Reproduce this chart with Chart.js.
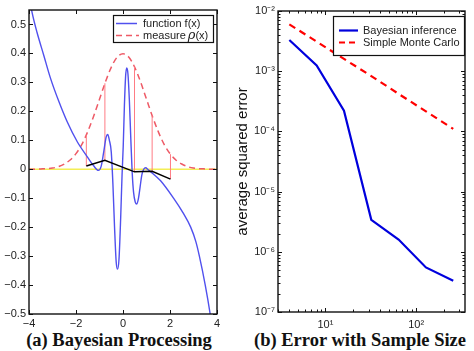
<!DOCTYPE html>
<html><head><meta charset="utf-8">
<script src="https://cdn.jsdelivr.net/npm/chart.js@4.4.0/dist/chart.umd.min.js"></script>
<style>
html,body{margin:0;padding:0;background:#fff;width:474px;height:351px;overflow:hidden;}
#c1{position:absolute;left:0;top:0;}
#c2{position:absolute;left:232px;top:0;}
.cap{position:absolute;font-family:"Liberation Serif","Times New Roman",serif;font-weight:bold;font-size:18.5px;color:#111;white-space:nowrap;transform:translateX(-50%);top:330px;line-height:21px;}
</style></head><body>
<canvas id="c1" width="232" height="330"></canvas>
<canvas id="c2" width="242" height="330"></canvas>
<div class="cap" style="left:119px">(a) Bayesian Processing</div>
<div class="cap" style="left:360px">(b) Error with Sample Size</div>
<script>
// ---------- left panel data ----------
const fX = [-4.0,-3.87,-3.66,-3.37,-3.08,-2.72,-2.37,-1.94,-1.51,-1.25,-1.05,-0.93,-0.82,-0.72,-0.65,-0.58,-0.50,-0.43,-0.36,-0.29,-0.23,-0.17,-0.10,-0.04,0.01,0.06,0.11,0.16,0.21,0.27,0.33,0.39,0.45,0.52,0.59,0.66,0.73,0.80,0.88,0.97,1.05,1.20,1.60,2.15,2.55,2.88,3.10,3.25,3.50,3.71,3.85];
const fY = [0.60,0.542,0.473,0.393,0.313,0.232,0.163,0.094,0.042,0.012,-0.004,0.01,0.06,0.11,0.12,0.10,0.06,-0.05,-0.20,-0.32,-0.345,-0.31,-0.17,-0.02,0.08,0.22,0.32,0.35,0.33,0.24,0.11,-0.01,-0.08,-0.113,-0.12,-0.10,-0.06,-0.02,0.0,0.005,0.0,-0.01,-0.04,-0.10,-0.15,-0.20,-0.25,-0.30,-0.40,-0.50,-0.58];
const rhoX = [-4,-3.75,-3.5,-3.25,-3,-2.75,-2.5,-2.25,-2,-1.75,-1.5,-1.25,-1,-0.75,-0.5,-0.25,0,0.25,0.5,0.75,1,1.25,1.5,1.75,2,2.25,2.5,2.75,3,3.25,3.5,3.75,4];
const rhoY = [0.000,0.000,0.001,0.002,0.004,0.009,0.018,0.032,0.054,0.086,0.130,0.183,0.242,0.301,0.352,0.387,0.399,0.387,0.352,0.301,0.242,0.183,0.130,0.086,0.054,0.032,0.018,0.009,0.004,0.002,0.001,0.000,0.000];
const sampleX = [-1.56,-0.77,0.49,1.24,2.02];
const sampleRho = [0.117,0.297,0.354,0.185,0.052];
const estY = [0.011,0.031,-0.009,-0.007,-0.034];
const zeroX = [-4,4];
const zeroY = [0,0];
const leftXTicks = [-4,-2,0,2,4];
const leftYTicks = [-0.5,-0.4,-0.3,-0.2,-0.1,0,0.1,0.2,0.3,0.4,0.5];

// ---------- right panel data ----------
const sizes = [4,8,16,32,64,128,256];
const bayesErr = [3.3e-3,1.25e-3,2.2e-4,3.4e-6,1.6e-6,5.5e-7,3.3e-7];
const mcErr = [6.0e-3,3.1e-3,1.6e-3,8.3e-4,4.2e-4,2.15e-4,1.1e-4];
const rightXTicks = [10,100];
const rightYTicks = [1e-7,1e-6,1e-5,1e-4,1e-3,1e-2];

const SANS = '"Liberation Sans", Arial, Helvetica, sans-serif';
const pts = (xs, ys) => xs.map((x,i)=>({x, y: ys[i]}));
function line(ctx,x1,y1,x2,y2){ctx.beginPath();ctx.moveTo(x1,y1);ctx.lineTo(x2,y2);ctx.stroke();}
const SUP = {'-':'\u207B','0':'\u2070','1':'\u00B9','2':'\u00B2','3':'\u00B3','4':'\u2074','5':'\u2075','6':'\u2076','7':'\u2077','8':'\u2078','9':'\u2079'};
const pow10Label = v => '10' + String(Math.round(Math.log10(v))).split('').map(c=>SUP[c]).join('');

function makeFrame(cfg){
  return {
    id: 'frame' + cfg.name,
    afterDatasetsDraw(chart){
      const {ctx, chartArea:a} = chart;
      const sx = chart.scales.x, sy = chart.scales.y;
      ctx.save();
      ctx.strokeStyle = '#111'; ctx.lineWidth = 1;
      const tick = (vals, len, isX) => vals.forEach(v => {
        if (isX) { const p = Math.round(sx.getPixelForValue(v))+0.5; line(ctx,p,a.bottom,p,a.bottom-len); line(ctx,p,a.top,p,a.top+len); }
        else { const p = Math.round(sy.getPixelForValue(v))+0.5; line(ctx,a.left,p,a.left+len,p); line(ctx,a.right,p,a.right-len,p); }
      });
      tick(cfg.xTicks, 4, true); tick(cfg.yTicks, 4, false);
      if (cfg.xMinor) tick(cfg.xMinor, 2.5, true);
      if (cfg.yMinor) tick(cfg.yMinor, 2.5, false);
      ctx.lineWidth = 1.4;
      ctx.strokeRect(a.left, a.top, a.width, a.height);
      ctx.restore();
    },
    afterDraw(chart){ cfg.legend(chart.ctx); }
  };
}

// ---------- left chart ----------
const verticals = sampleX.map((x,i)=>({
  data: [{x, y: estY[i]}, {x, y: sampleRho[i]}],
  showLine: true, borderColor: '#ff7c84', borderWidth: 1, pointRadius: 0, order: 3
}));

new Chart(document.getElementById('c1'), {
  type: 'scatter',
  data: { datasets: [
    { data: pts(zeroX, zeroY), showLine: true, borderColor: '#f4ee55', borderWidth: 1.6, pointRadius: 0, order: 6 },
    { data: pts(rhoX, rhoY), showLine: true, borderColor: '#ee5a66', borderWidth: 1.5, borderDash: [6,4], pointRadius: 0, cubicInterpolationMode: 'monotone', order: 5 },
    ...verticals,
    { data: pts(fX, fY), showLine: true, borderColor: '#5050ee', borderWidth: 1.4, pointRadius: 0, cubicInterpolationMode: 'monotone', order: 2 },
    { data: pts(sampleX, estY), showLine: true, borderColor: '#000', borderWidth: 1.5, pointRadius: 0, order: 1 }
  ]},
  options: {
    responsive: false, animation: false, events: [],
    layout: { padding: { left: 0, right: 15, top: 10, bottom: 0 } },
    plugins: { legend: { display: false }, tooltip: { enabled: false } },
    scales: {
      x: { type: 'linear', min: -4, max: 4,
        afterBuildTicks: s => { s.ticks = leftXTicks.map(v=>({value:v})); },
        afterFit: s => { s.height = 16; },
        grid: { display: false, drawTicks: false }, border: { display: false },
        ticks: { padding: 3, color: '#222', font: { family: SANS, size: 11 }, maxRotation: 0, autoSkip: false,
          callback: v => (v < 0 ? '\u2212' : '') + Math.abs(v) } },
      y: { type: 'linear', min: -0.5, max: 0.55,
        afterBuildTicks: s => { s.ticks = leftYTicks.map(v=>({value:v})); },
        afterFit: s => { s.width = 29; },
        grid: { display: false, drawTicks: false }, border: { display: false },
        ticks: { padding: 3, color: '#222', font: { family: SANS, size: 11 }, autoSkip: false,
          callback: v => Math.abs(v) < 1e-9 ? '0' : (v < 0 ? '\u2212' : '') + Math.abs(v).toFixed(1) } }
    }
  },
  plugins: [makeFrame({ name: 'L', xTicks: leftXTicks, yTicks: leftYTicks, legend: ctx => {
    ctx.save();
    ctx.fillStyle = '#fff'; ctx.fillRect(113, 15, 100, 27);
    ctx.strokeStyle = '#111'; ctx.lineWidth = 1.2; ctx.strokeRect(113.5, 15.5, 100, 27);
    ctx.lineWidth = 1.5; ctx.strokeStyle = '#5050ee'; line(ctx, 116, 23.5, 137, 23.5);
    ctx.strokeStyle = '#ee5a66'; ctx.setLineDash([6,4]); line(ctx, 116, 35.5, 139, 35.5); ctx.setLineDash([]);
    ctx.fillStyle = '#222'; ctx.textBaseline = 'middle'; ctx.textAlign = 'left';
    ctx.font = '11px ' + SANS; ctx.fillText('function f(x)', 143, 23.5);
    ctx.fillText('measure', 143, 36);
    let w = ctx.measureText('measure').width;
    ctx.font = 'italic 13px "DejaVu Serif", serif'; ctx.fillText('\u03C1', 143 + w + 2, 36);
    const w2 = ctx.measureText('\u03C1').width;
    ctx.font = '11px ' + SANS; ctx.fillText('(x)', 143 + w + 2 + w2, 36);
    ctx.restore();
  }})]
});

// ---------- right chart ----------
const xMinor = [], yMinor = [];
for (let e = 0; e <= 2; e++) for (let k = 2; k <= 9; k++) { const v = k * Math.pow(10, e); if (v >= 3 && v <= 345) xMinor.push(v); }
for (let e = -7; e <= -3; e++) for (let k = 2; k <= 9; k++) yMinor.push(k * Math.pow(10, e));

new Chart(document.getElementById('c2'), {
  type: 'scatter',
  data: { datasets: [
    { data: pts(sizes, bayesErr), showLine: true, borderColor: '#0000dd', borderWidth: 2.2, pointRadius: 0, order: 1 },
    { data: pts(sizes, mcErr), showLine: true, borderColor: '#ff0000', borderWidth: 2.2, borderDash: [7,5], pointRadius: 0, order: 2 }
  ]},
  options: {
    responsive: false, animation: false, events: [],
    layout: { padding: { left: 0, right: 9, top: 11, bottom: 0 } },
    plugins: { legend: { display: false }, tooltip: { enabled: false } },
    scales: {
      x: { type: 'logarithmic', min: 3, max: 345,
        afterBuildTicks: s => { s.ticks = rightXTicks.map(v=>({value:v})); },
        afterFit: s => { s.height = 18; },
        grid: { display: false, drawTicks: false }, border: { display: false },
        ticks: { padding: 6, color: '#222', font: { family: SANS, size: 11 }, maxRotation: 0, autoSkip: false, callback: v => pow10Label(v) } },
      y: { type: 'logarithmic', min: 1e-7, max: 1e-2,
        afterBuildTicks: s => { s.ticks = rightYTicks.map(v=>({value:v})); },
        afterFit: s => { s.width = 46; },
        grid: { display: false, drawTicks: false }, border: { display: false },
        title: { display: true, text: 'average squared error', color: '#111', font: { family: SANS, size: 15 }, padding: { top: 2, bottom: 0 } },
        ticks: { padding: 3, color: '#222', font: { family: SANS, size: 11 }, autoSkip: false, callback: v => pow10Label(v) } }
    }
  },
  plugins: [makeFrame({ name: 'R', xTicks: rightXTicks, yTicks: rightYTicks, xMinor, yMinor, legend: ctx => {
    ctx.save();
    ctx.fillStyle = '#fff'; ctx.fillRect(101, 16, 131, 39);
    ctx.strokeStyle = '#111'; ctx.lineWidth = 1.2; ctx.strokeRect(101.5, 16.5, 131, 39);
    ctx.lineWidth = 2.2; ctx.strokeStyle = '#0000dd'; line(ctx, 107, 30.5, 126, 30.5);
    ctx.strokeStyle = '#ff0000'; ctx.setLineDash([6,4]); line(ctx, 107, 42.5, 127, 42.5); ctx.setLineDash([]);
    ctx.fillStyle = '#222'; ctx.textBaseline = 'middle'; ctx.textAlign = 'left';
    ctx.font = '11px ' + SANS;
    ctx.fillText('Bayesian inference', 131, 30.5);
    ctx.fillText('Simple Monte Carlo', 131, 43);
    ctx.restore();
  }})]
});
</script>
</body></html>
